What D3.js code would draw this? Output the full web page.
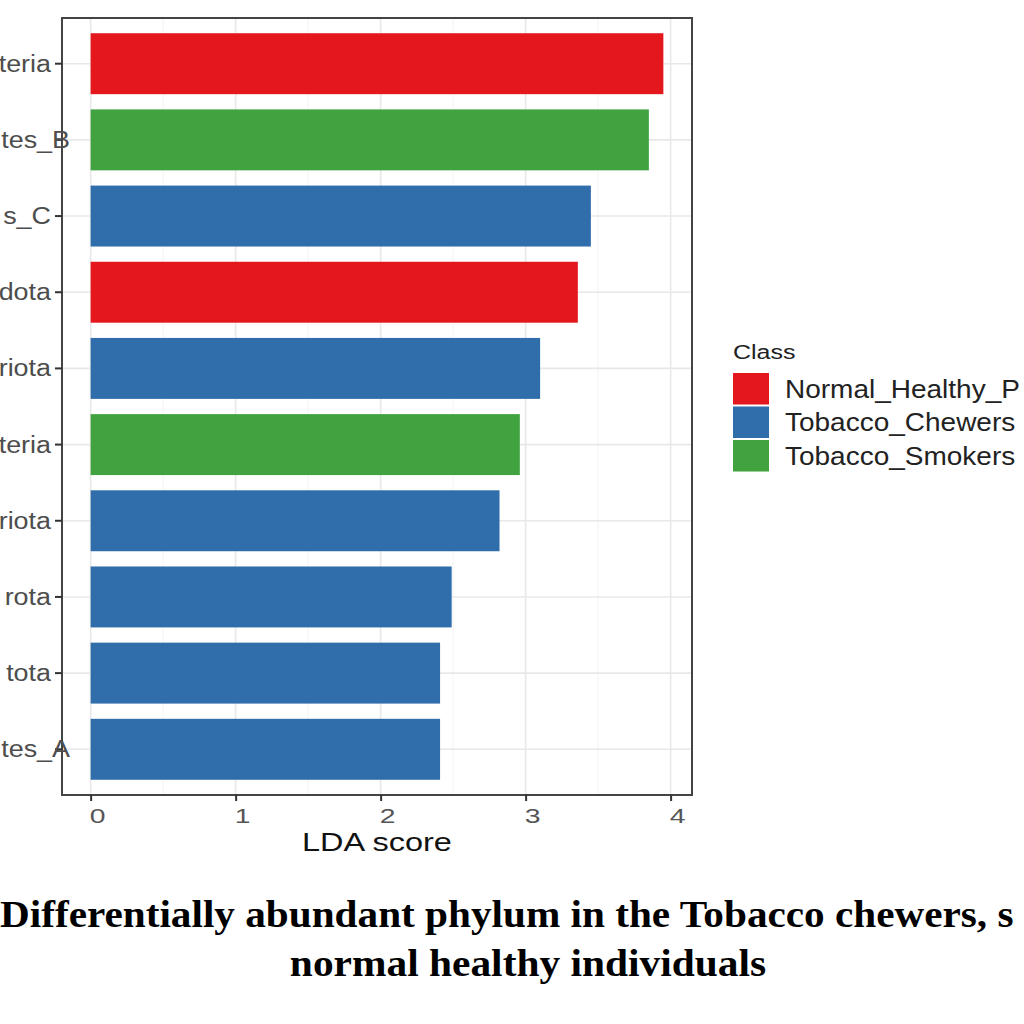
<!DOCTYPE html>
<html>
<head>
<meta charset="utf-8">
<script src="https://cdn.jsdelivr.net/npm/d3@7"></script>
<style>
  html, body { margin: 0; padding: 0; background: #fff; }
  svg { display: block; }
</style>
</head>
<body>
<svg id="chart" width="1024" height="1024"></svg>
<script>
// ---- data (top to bottom) ----
const categories = ["teria", "tes_B", "s_C", "dota", "riota", "teria ", "riota ", "rota", "tota", "tes_A"];
const ldaScores  = [3.95, 3.85, 3.45, 3.36, 3.10, 2.96, 2.82, 2.49, 2.41, 2.41];
const classes    = ["Normal_Healthy_P", "Tobacco_Smokers", "Tobacco_Chewers", "Normal_Healthy_P", "Tobacco_Chewers",
                    "Tobacco_Smokers", "Tobacco_Chewers", "Tobacco_Chewers", "Tobacco_Chewers", "Tobacco_Chewers"];
const legendClasses = ["Normal_Healthy_P", "Tobacco_Chewers", "Tobacco_Smokers"];
const classColors   = ["#E3171C", "#2F6DAB", "#40A33F"];
const xTicks = [0, 1, 2, 3, 4];
const xMinorTicks = [0.5, 1.5, 2.5, 3.5];
const xTitle = "LDA score";
const legendTitle = "Class";
const captionLines = ["Differentially abundant phylum in the Tobacco chewers, s", "normal healthy individuals"];

const svg = d3.select("#chart");
svg.append("rect").attr("width", 1024).attr("height", 1024).attr("fill", "#fff");

const panel = { left: 62, right: 692, top: 18, bottom: 795 };
const maxV = d3.max(ldaScores);
const x = d3.scaleLinear().domain([-0.05 * maxV, maxV * 1.05]).range([panel.left, panel.right]);
const y = d3.scaleBand().domain(categories).range([panel.top, panel.bottom]).paddingInner(0.2).paddingOuter(0.2);
const color = d3.scaleOrdinal().domain(legendClasses).range(classColors);

// helper for horizontally-stretched text
function stext(g, str, tx, ty, size, sx, opts = {}) {
  return g.append("text")
    .attr("transform", `translate(${tx},${ty}) scale(${sx},1)`)
    .attr("font-family", opts.family || "Liberation Sans, Arial, sans-serif")
    .attr("font-size", size)
    .attr("font-weight", opts.weight || "normal")
    .attr("fill", opts.fill || "#000")
    .attr("text-anchor", opts.anchor || "start")
    .text(str);
}

// grid
const grid = svg.append("g");
grid.selectAll("line.minor").data(xMinorTicks).join("line")
  .attr("x1", d => x(d)).attr("x2", d => x(d))
  .attr("y1", panel.top).attr("y2", panel.bottom)
  .attr("stroke", "#f3f3f3").attr("stroke-width", 1);
grid.selectAll("line.majx").data(xTicks).join("line")
  .attr("x1", d => x(d)).attr("x2", d => x(d))
  .attr("y1", panel.top).attr("y2", panel.bottom)
  .attr("stroke", "#e8e8e8").attr("stroke-width", 1.6);
grid.selectAll("line.majy").data(categories).join("line")
  .attr("x1", panel.left).attr("x2", panel.right)
  .attr("y1", d => y(d) + y.bandwidth() / 2).attr("y2", d => y(d) + y.bandwidth() / 2)
  .attr("stroke", "#e8e8e8").attr("stroke-width", 1.6);

// bars
svg.append("g").selectAll("rect").data(categories).join("rect")
  .attr("x", x(0))
  .attr("y", d => y(d))
  .attr("width", (d, i) => x(ldaScores[i]) - x(0))
  .attr("height", y.bandwidth())
  .attr("fill", (d, i) => color(classes[i]));

// panel border
svg.append("rect")
  .attr("x", panel.left).attr("y", panel.top)
  .attr("width", panel.right - panel.left).attr("height", panel.bottom - panel.top)
  .attr("fill", "none").attr("stroke", "#444").attr("stroke-width", 2);

// x axis
const xAxis = svg.append("g").attr("transform", `translate(0,${panel.bottom})`)
  .call(d3.axisBottom(x).tickValues(xTicks).tickSize(6).tickFormat(""));
xAxis.select(".domain").remove();
xAxis.selectAll(".tick line").attr("stroke", "#333").attr("stroke-width", 2);
xTicks.forEach(t => stext(svg, String(t), x(t) + 7, 823, 21, 1.35, { anchor: "middle", fill: "#555" }));
stext(svg, xTitle, (panel.left + panel.right) / 2, 851, 25, 1.3, { anchor: "middle", fill: "#111" });

// y axis
const yAxis = svg.append("g").attr("transform", `translate(${panel.left},0)`)
  .call(d3.axisLeft(y).tickSize(7).tickFormat(""));
yAxis.select(".domain").remove();
yAxis.selectAll(".tick line").attr("stroke", "#333").attr("stroke-width", 2);
categories.forEach(c => {
  const label = c.trim();
  const endX = /_[AB]$/.test(label) ? 70 : 51;
  stext(svg, label, endX, y(c) + y.bandwidth() / 2 + 8, 23, 1.17, { anchor: "end", fill: "#4d4d4d" });
});

// legend
const lg = svg.append("g");
stext(lg, legendTitle, 733, 359, 20, 1.25, { fill: "#222" });
const keyTop = 372, keyH = 33.5;
legendClasses.forEach((c, i) => {
  lg.append("rect")
    .attr("x", 733).attr("y", keyTop + i * keyH + 1)
    .attr("width", 36).attr("height", keyH - 2)
    .attr("fill", color(c));
  stext(lg, c, 785, keyTop + i * keyH + keyH / 2 + 9, 25, 1.12, { fill: "#222" });
});

// caption
stext(svg, captionLines[0], 0, 927, 38, 1.085, { family: "Liberation Serif, Times New Roman, serif", weight: "bold" });
stext(svg, captionLines[1], 528, 976, 38, 1.09, { family: "Liberation Serif, Times New Roman, serif", weight: "bold", anchor: "middle" });
</script>
</body>
</html>
